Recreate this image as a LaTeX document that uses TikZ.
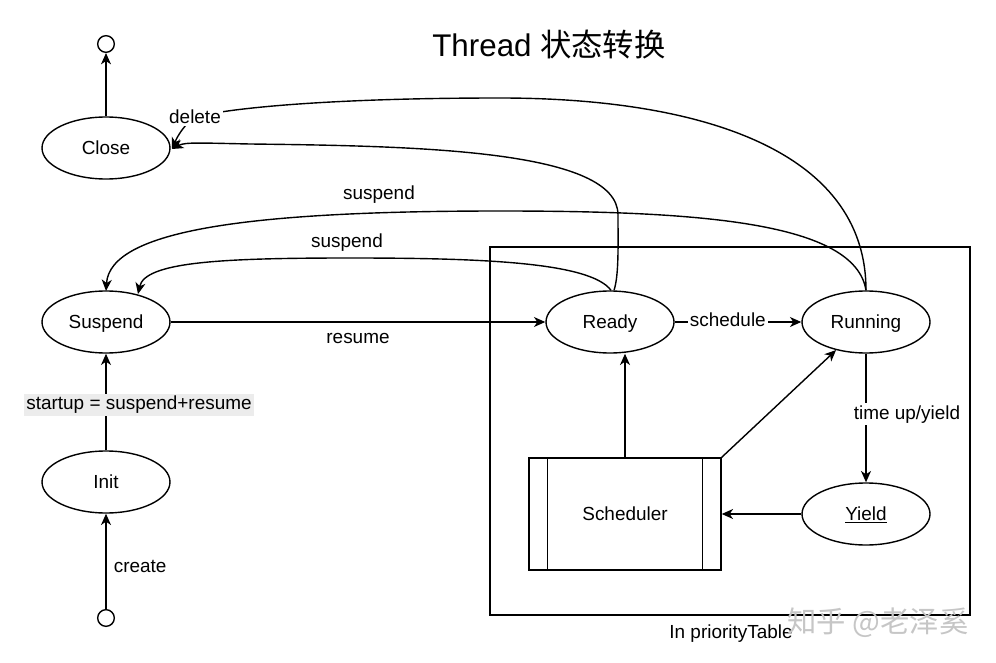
\documentclass[tikz,border=0pt]{standalone}
\usepackage{fontspec}
\setmainfont{Liberation Sans}
\newfontfamily\cjk{Noto Sans CJK SC}
\usetikzlibrary{shapes.geometric,arrows.meta}
\begin{document}
\begin{tikzpicture}[x=0.75pt,y=-0.75pt,
  line width=1.05pt,
  every node/.style={font=\fontsize{14.2}{17}\selectfont},
  st/.style={ellipse,draw,minimum width=96pt,minimum height=46.5pt,inner sep=0pt,text depth=0.5pt},
  endpt/.style={circle,draw,minimum size=12.5pt,inner sep=0pt},
  arr/.style={-{Stealth[length=8.5pt,width=7.5pt,inset=2.5pt]}},
  lbl/.style={fill=white,inner sep=1.5pt}]
\useasboundingbox (0,0) rectangle (996,663);
\fill[white] (0,0) rectangle (996,663);

% title
\node (title) at (549,45) {\fontsize{23.5}{28}\selectfont Thread {\cjk 状态转换}};

% container
\draw (490,247) rectangle (970,615);
\node (tbl) at (731,634) {In priorityTable};

% states
\node[endpt] (top) at (106,44) {};
\node[st] (close) at (106,148) {Close};
\node[st] (suspend) at (106,322) {Suspend};
\node[st] (init) at (106,482) {Init};
\node[endpt] (bot) at (106,618) {};
\node[st] (ready) at (610,322) {Ready};
\node[st] (running) at (866,322) {Running};
\node[st] (yield) at (866,514) {\underline{Yield}};
\node[draw,rectangle,minimum width=144pt,minimum height=84pt,inner sep=0pt,text depth=0.5pt] (sch) at (625,514) {Scheduler};
\draw ([xshift=14.25pt]sch.north west) -- ([xshift=14.25pt]sch.south west);
\draw ([xshift=-14.25pt]sch.north east) -- ([xshift=-14.25pt]sch.south east);

% straight connectors
\draw[arr] (close) -- (top);
\draw[arr] (bot) -- node[right,pos=0.45,xshift=2pt] {create} (init);
\draw[arr] (init) -- node[pos=0.47,xshift=24.75pt,fill=gray!15,inner sep=1.5pt] {startup = suspend+resume} (suspend);
\draw[arr] (suspend) -- node[below,yshift=-5pt] {resume} (ready);
\draw[arr] (ready) -- node[lbl,pos=0.42,yshift=1.5pt] {schedule} (running);
\draw[arr] (running) -- node[lbl,pos=0.47,xshift=30.75pt] {time up/yield} (yield);
\draw[arr] (yield) -- (sch);
\draw[arr] (sch.north) -- (sch.north |- ready.south);
\draw[arr] (sch.north east) -- (running);

% curved connectors
\coordinate (cl) at (172,149);
\coordinate (su1) at (106,291);
\coordinate (su2) at (138,294);
\draw[arr] ([xshift=0.75pt]ready.north) .. controls (590,262) and (480,258) .. (350,258)
  .. controls (220,258) and (145,262) .. (su2);
\node at (347,243) {suspend};
\draw[arr] (running.north) .. controls (855,222) and (700,211) .. (500,211)
  .. controls (250,211) and (110,230) .. (su1);
\node at (379,195) {suspend};
\draw[arr] ([xshift=3pt]ready.north) .. controls (619,275) and (618,245) .. (618,215)
  .. controls (618,150) and (420,146) .. (250,144) .. controls (200,143) and (185,142) .. (cl);
\draw[arr] (running.north) .. controls (866,150) and (700,98) .. (500,98)
  .. controls (330,98) and (230,108) .. (195,117) node[lbl,pos=1] {delete}
  .. controls (185,124) and (178,135) .. (cl);

% watermark
\node[text=gray!45] (wm) at (878,623) {\fontsize{22}{26}\selectfont\cjk 知乎 @老泽奚};
\end{tikzpicture}
\end{document}
